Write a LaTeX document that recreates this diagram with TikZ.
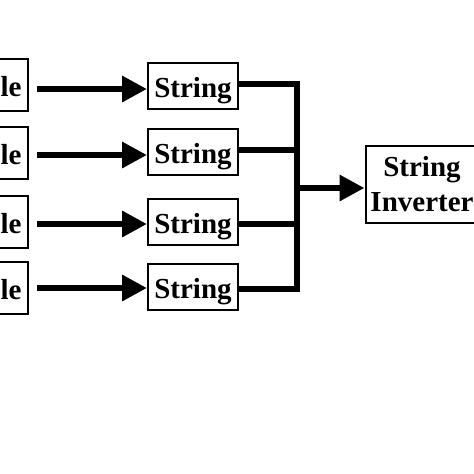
\documentclass[tikz,border=0pt]{standalone}
\usepackage{fontspec}
\setmainfont{Liberation Serif}
\usetikzlibrary{arrows.meta}
\begin{document}
\begin{tikzpicture}[x=1pt,y=-1pt,
  box/.style={draw=black,line width=2pt,fill=white,inner sep=0pt,align=center,
    font=\fontsize{29}{35}\selectfont\bfseries},
  onebox/.style={box,text height=24pt,text depth=2pt},
  modbox/.style={onebox,minimum width=108pt,minimum height=52pt},
  strbox/.style={onebox,minimum width=90pt,minimum height=46pt},
  invbox/.style={box,minimum width=113pt,minimum height=77pt},
  flow/.style={line width=6.5pt,-{Triangle[length=25pt,width=25pt]}},
  bus/.style={line width=6pt}]
\useasboundingbox (0,0) rectangle (474,474);
\fill[white] (0,0) rectangle (474,474);
\clip (0,0) rectangle (474,474);
\node[modbox] (m1) at (-26,85) {Module};
\node[modbox] (m2) at (-26,153) {Module};
\node[modbox] (m3) at (-26,222) {Module};
\node[modbox] (m4) at (-26,288) {Module};
\node[strbox] (s1) at (193,86) {String};
\node[strbox] (s2) at (193,152) {String};
\node[strbox] (s3) at (193,222) {String};
\node[strbox] (s4) at (193,287) {String};
\node[invbox] (inv) at (422,184.5) {String\\Inverter};
\coordinate (bx) at (297,0);
\draw[flow,shorten <=8pt] (m1.east |- 0,89) -- (s1.west |- 0,89);
\draw[flow,shorten <=8pt] (m2.east |- 0,155) -- (s2.west |- 0,155);
\draw[flow,shorten <=8pt] (m3.east |- 0,224) -- (s3.west |- 0,224);
\draw[flow,shorten <=8pt] (m4.east |- 0,288) -- (s4.west |- 0,288);
\draw[bus] (s1.east |- 0,84) -| (bx |- 0,289) -- (s4.east |- 0,289);
\draw[bus] (s2.east |- 0,150) -- (bx |- 0,150);
\draw[bus] (s3.east |- 0,224) -- (bx |- 0,224);
\coordinate (bout) at (bx |- 0,188);
\draw[flow] (bout) -- (inv.west |- 0,188);
\end{tikzpicture}
\end{document}
